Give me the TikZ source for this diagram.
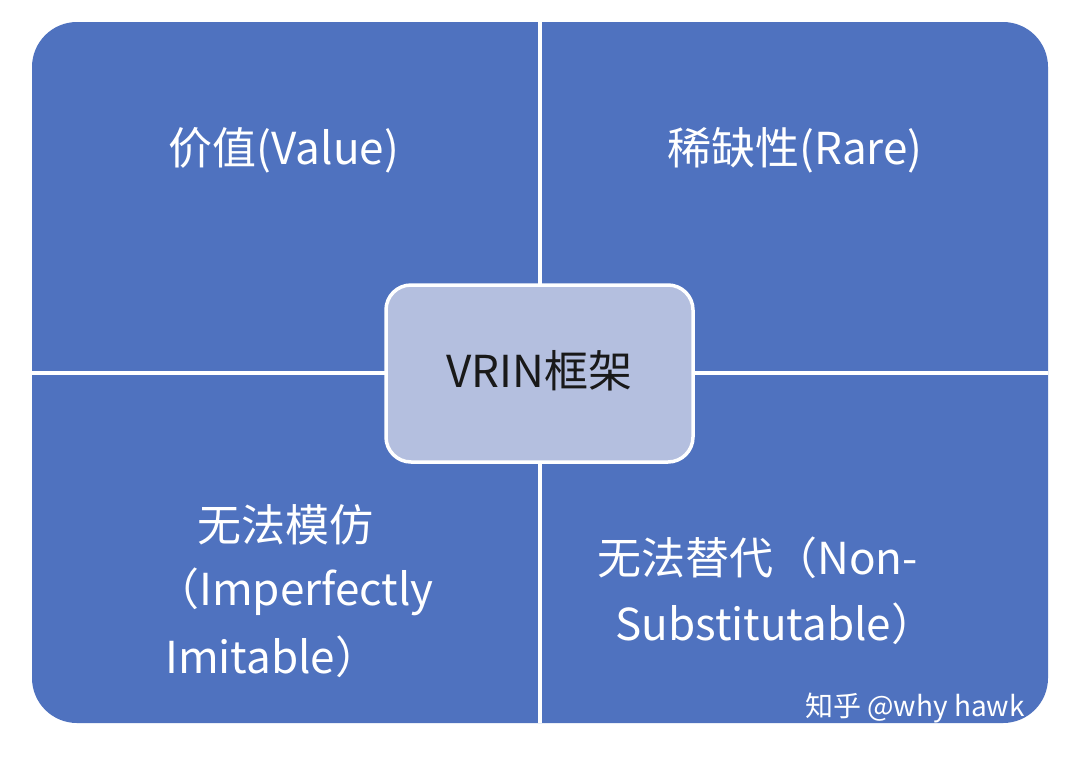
\documentclass[tikz,border=0pt]{standalone}
\usepackage{fontspec}
\newfontfamily\cjk{Noto Sans CJK SC}
\definecolor{quad}{HTML}{4F72BF}
\definecolor{mid}{HTML}{B4BFDF}
\begin{document}
\begin{tikzpicture}[x=1pt,y=-1pt,
  lbl/.style={text=white,font=\cjk\fontsize{44}{50}\selectfont,inner sep=0pt},
  ctr/.style={text=black!90,font=\cjk\fontsize{44}{50}\selectfont,inner sep=0pt}]
\useasboundingbox (0,0) rectangle (1070,758);
\fill[white] (0,0) rectangle (1070,758);
\fill[quad,rounded corners=45pt] (32,22) rectangle (1048,723);
\draw[white,line width=3.5pt] (540,22) -- (540,723);
\draw[white,line width=3.5pt] (32,373) -- (1048,373);
\filldraw[fill=mid,draw=white,line width=3.5pt,rounded corners=25pt] (386,285) rectangle (693,462);
\node[ctr] (c) at (539.5,371) {VRIN框架};
\node[lbl] (v) at (284,150) {价值(Value)};
\node[lbl] (r) at (795,150) {稀缺性(Rare)};
\node[lbl] (i1) at (285,525) {无法模仿};
\node[lbl,anchor=west] (i2) at (155,592) {（Imperfectly};
\node[lbl,anchor=west] (i3) at (165,657) {Imitable）};
\node[lbl,anchor=west] (n1) at (597,558) {无法替代（Non-};
\node[lbl,anchor=west] (n2) at (615,624) {Substitutable）};
\node[text=white,font=\cjk\fontsize{28}{32}\selectfont,inner sep=0pt] (w) at (915,708) {知乎 @why hawk};
\end{tikzpicture}
\end{document}
